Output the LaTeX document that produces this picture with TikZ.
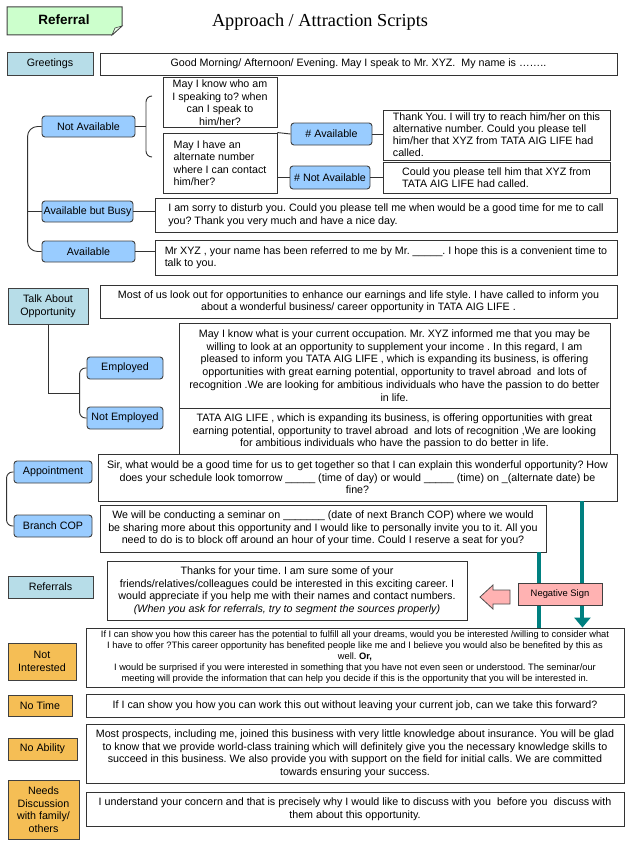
\documentclass[tikz,border=0pt]{standalone}
\usepackage{fontspec}
\setmainfont{Liberation Sans}
\newfontfamily\titlefont{Liberation Serif}
\usetikzlibrary{positioning, arrows.meta, calc}

\definecolor{lblblue}{RGB}{153,204,255}
\definecolor{lblteal}{RGB}{183,221,232}
\definecolor{lblorange}{RGB}{245,190,85}
\definecolor{negpink}{RGB}{255,178,178}
\definecolor{notegreen}{RGB}{204,255,204}
\definecolor{lineteal}{RGB}{0,128,128}

\newcommand\fsz[2]{\fontsize{#1}{#2}\selectfont}
\frenchspacing

\tikzset{
        sz/.style 2 args={minimum width=#1pt, minimum height=#2pt},
        txtbox/.style={draw=black!80, fill=white, line width=0.9pt, inner sep=2pt,
                align=center, font=\fsz{10.7}{12.5}},
        lblbox/.style={draw=black!75, fill=lblblue, line width=0.9pt, rounded corners=3pt,
                inner sep=1pt, align=center, font=\fsz{10.7}{12}},
        tealbox/.style={draw=black!75, fill=lblteal, line width=1pt, inner sep=1pt,
                align=center, font=\fsz{10.7}{12.5}},
        orbox/.style={draw=black!75, fill=lblorange, line width=1pt, inner sep=1pt,
                align=center, font=\fsz{10.7}{12.5}},
        wire/.style={draw=black!80, line width=0.9pt},
        tealline/.style={draw=lineteal, line width=4pt}
}

\begin{document}
\begin{tikzpicture}[x=1pt, y=-1pt]
        \useasboundingbox (0,0) rectangle (638,851);

        \draw[fill=notegreen, draw=black!75, line width=1pt] (7,7) -- (122,7) -- (122,26)
              -- (112,35) -- (7,35) -- cycle;
        \draw[fill=notegreen!40, draw=black!75, line width=0.6pt] (112,35) -- (115,28) -- (122,26) -- cycle;
        \node[font=\bfseries\fsz{13.5}{15}] (ref) at (64,20) {Referral};
        \node[font=\titlefont\fsz{18.3}{20}] (title) at (320,22) {Approach / Attraction Scripts};

        \node[tealbox, sz={86}{22}] (greet) at (50,64) {Greetings};
        \node[txtbox, sz={517}{22}] (greett) at (358.5,64)
              {Good Morning/ Afternoon/ Evening. May I speak to Mr. XYZ.\ \ My name is ……..};

        \node[txtbox, sz={114}{49}] (who) at (220,102.5)
              {May I know who am\\ I speaking to? when\\ can I speak to\\ him/her?};
        \node[txtbox, sz={114}{60}, align=left] (alt) at (220,163)
              {May I have an\\ alternate number\\ where I can contact\\ him/her?};
        \node[lblbox, sz={93}{21}] (na) at (88.5,126.5) {Not Available};
        \node[lblbox, sz={81}{22}] (ah) at (331.5,134) {\# Available};
        \node[lblbox, sz={80}{23}] (nah) at (330,177.5) {\# Not Available};
        \node[txtbox, sz={227}{50}, align=left, font=\fsz{10.7}{12}] (thank) at (496.5,135)
              {Thank You. I will try to reach him/her on this\\ alternative number. Could you please tell\\
               him/her that XYZ from TATA AIG LIFE had\\ called.};
        \node[txtbox, sz={227}{31}, align=left, font=\fsz{10.7}{12}] (could) at (496.5,177.5)
              {Could you please tell him that XYZ from\\ TATA AIG LIFE had called.};

        \node[lblbox, sz={91}{21}] (busy) at (87.5,211.5) {Available but Busy};
        \node[txtbox, sz={462}{34}, align=left] (busyt) at (386,215)
              {I am sorry to disturb you. Could you please tell me when would be a good time for me to call\\
               you? Thank you very much and have a nice day.};
        \node[lblbox, sz={93}{21}] (av) at (88.5,251.5) {Available};
        \node[txtbox, sz={462}{35}, align=left] (avt) at (386,257.5)
              {Mr XYZ , your name has been referred to me by Mr. \_\_\_\_\_. I hope this is a convenient time to\\
               talk to you.};

        \draw[wire] (na.east) -- ++(11,0);
        \draw[wire, rounded corners=6pt] (152,96) -- (146,96) -- (146,157) -- (152,157);
        \draw[wire, rounded corners=10pt] (na.west) -- ++(-14,0) |- (av.west);
        \draw[wire] (busy.west) -- ++(-14,0);
        \draw[wire] (busy.east) -- (busy.east -| busyt.west);
        \draw[wire] (av.east) -- (av.east -| avt.west);
        \draw[wire] (alt.north east) -- (ah.west);
        \draw[wire] (alt.east |- nah.west) -- (nah.west);
        \draw[wire] (ah.east) -- (ah.east -| thank.west);
        \draw[wire] (nah.east) -- (nah.east -| could.west);

        \node[tealbox, sz={80}{36}] (talk) at (48,306) {Talk About\\ Opportunity};
        \node[txtbox, sz={517}{33}] (talkt) at (358.5,301.5)
              {Most of us look out for opportunities to enhance our earnings and life style. I have called to inform you\\
               about a wonderful business/ career opportunity in TATA AIG LIFE .};
        \node[lblbox, sz={76}{22}] (emp) at (125,368) {Employed};
        \node[lblbox, sz={76}{22}] (nemp) at (125,418) {Not Employed};
        \node[txtbox, sz={431}{85}, font=\fsz{10.7}{12.7}] (empt) at (394.5,365.5)
              {May I know what is your current occupation. Mr. XYZ informed me that you may be\\
               willing to look at an opportunity to supplement your income . In this regard, I am\\
               pleased to inform you TATA AIG LIFE , which is expanding its business, is offering\\
               opportunities with great earning potential, opportunity to travel abroad\ \ and lots of\\
               recognition .We are looking for ambitious individuals who have the passion to do better\\
               in life.};
        \node[txtbox, sz={431}{47}, font=\fsz{10.7}{12.7}] (nempt) at (394.5,431.5)
              {TATA AIG LIFE , which is expanding its business, is offering opportunities with great\\
               earning potential, opportunity to travel abroad\ \ and lots of recognition ,We are looking\\
               for ambitious individuals who have the passion to do better in life.};

        \draw[wire] (talk.south) |- (80,393);
        \draw[wire, rounded corners=6pt] (emp.west) -- ++(-7,0) |- (nemp.west);

        \node[lblbox, sz={78}{22}] (appt) at (53,472) {Appointment};
        \node[lblbox, sz={78}{22}] (cop) at (53,526) {Branch COP};
        \node[txtbox, sz={519}{47}] (apptt) at (357.5,477.5)
              {Sir, what would be a good time for us to get together so that I can explain this wonderful opportunity? How\\
               does your schedule look tomorrow \_\_\_\_\_ (time of day) or would \_\_\_\_\_ (time) on \_(alternate date) be\\
               fine?};
        \node[txtbox, sz={446}{47}] (copt) at (323,528.5)
              {We will be conducting a seminar on \_\_\_\_\_\_\_ (date of next Branch COP) where we would\\
               be sharing more about this opportunity and I would like to personally invite you to it. All you\\
               need to do is to block off around an hour of your time. Could I reserve a seat for you?};
        \draw[wire, rounded corners=6pt] (appt.west) -- ++(-7,0) |- (cop.west);

        \node[tealbox, sz={85}{22}] (refs) at (50.5,587) {Referrals};
        \node[txtbox, sz={360}{59}] (refst) at (287,590.5)
              {Thanks for your time. I am sure some of your\\
               friends/relatives/colleagues could be interested in this exciting career. I\\
               would appreciate if you help me with their names and contact numbers.\\
               \textit{(When you ask for referrals, try to segment the sources properly)}};

        \node[orbox, sz={68}{37}] (noint) at (42,661.5) {Not\\ Interested};
        \node[txtbox, sz={538}{59}, font=\fsz{9.3}{11}] (nointt) at (355,657.5)
              {If I can show you how this career has the potential to fulfill all your dreams, would you be interested /willing to consider what\\
               I have to offer ?This career opportunity has benefited people like me and I believe you would also be benefited by this as\\
               well. \textbf{Or,}\\
               I would be surprised if you were interested in something that you have not even seen or understood. The seminar/our\\
               meeting will provide the information that can help you decide if this is the opportunity that you will be interested in.};

        \draw[tealline] ([xshift=-7pt]copt.south east) -- ([xshift=-7pt]copt.south east |- nointt.north);
        \draw[tealline, -{Triangle[width=16pt, length=10pt]}] ([xshift=-35pt]apptt.south east)
              -- ([xshift=-35pt]apptt.south east |- nointt.north);
        \node[draw=black!75, fill=negpink, line width=0.9pt, sz={84}{22}, font=\fsz{9.4}{11}] (neg) at (560,594)
              {Negative Sign};
        \draw[fill=negpink, draw=black!70, line width=0.8pt] (480,597) -- (493,585) -- (493,590) -- (510,590)
              -- (510,604) -- (493,604) -- (493,609) -- cycle;

        \node[orbox, sz={64}{21}] (notime) at (40,706) {No Time};
        \node[txtbox, sz={538}{23}] (notimet) at (355,705.5)
              {If I can show you how you can work this out without leaving your current job, can we take this forward?};
        \node[orbox, sz={69}{22}] (noab) at (42.5,749) {No Ability};
        \node[txtbox, sz={538}{59}] (noabt) at (355,753.5)
              {Most prospects, including me, joined this business with very little knowledge about insurance. You will be glad\\
               to know that we provide world-class training which will definitely give you the necessary knowledge skills to\\
               succeed in this business. We also provide you with support on the field for initial calls. We are committed\\
               towards ensuring your success.};
        \node[orbox, sz={71}{59}] (needs) at (43.5,809.5) {Needs\\ Discussion\\ with family/\\ others};
        \node[txtbox, sz={538}{34}] (needst) at (355,809)
              {I understand your concern and that is precisely why I would like to discuss with you\ \ before you\ \ discuss with\\
               them about this opportunity.};
\end{tikzpicture}
\end{document}
